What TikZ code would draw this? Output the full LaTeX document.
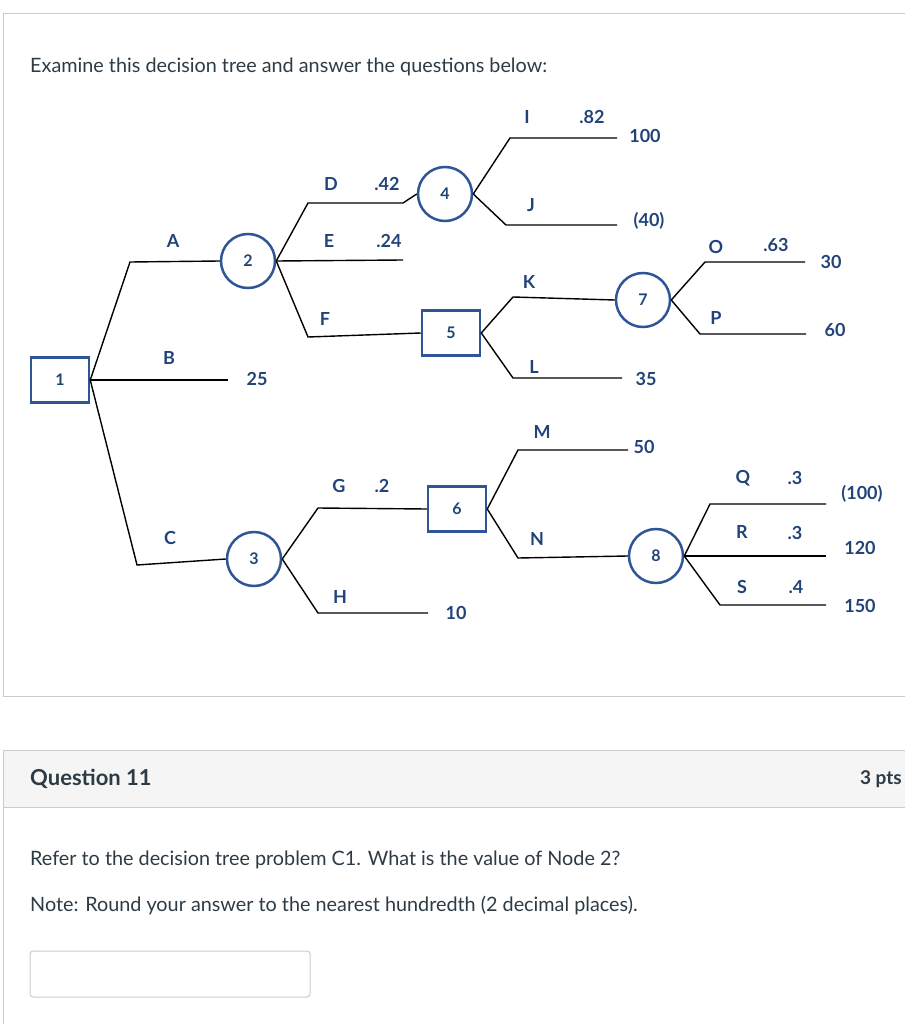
\documentclass[tikz,border=0pt]{standalone}
\usepackage{fontspec}
\setmainfont{Lato}
\definecolor{nodeblue}{HTML}{2F5597}
\definecolor{lab}{HTML}{22437A}
\definecolor{txt}{HTML}{2D3B45}
\definecolor{panel}{HTML}{C7CDD1}
\definecolor{head}{HTML}{F5F5F5}
\begin{document}
\begin{tikzpicture}[x=1pt,y=-1pt,
 sq/.style={draw=nodeblue,line width=2.5pt,minimum width=58pt,minimum height=45pt,inner sep=0pt,text=lab,font=\fontsize{16}{18}\selectfont\bfseries},
 ci/.style={circle,draw=nodeblue,line width=2.5pt,minimum size=54pt,inner sep=0pt,text=lab,font=\fontsize{16}{18}\selectfont\bfseries},
 lb/.style={text=lab,font=\fontsize{18}{21}\selectfont\bfseries,inner sep=0pt},
 br/.style={line width=1.4pt,black},
 body/.style={text=txt,font=\fontsize{19.8}{24}\selectfont,anchor=west,inner sep=0pt}]
\useasboundingbox (0,0) rectangle (904,1024);
\draw[panel,line width=1pt] (915,14) -- (3,14) -- (3,696) -- (915,696);
\node[body] (title) at (30,67) {Examine this decision tree and answer the questions below:};
% nodes
\node[sq] (n1) at (60,380) {1};
\node[ci] (n2) at (248,261) {2};
\node[ci] (n3) at (254,559) {3};
\node[ci] (n4) at (445,194) {4};
\node[sq] (n5) at (451,333) {5};
\node[sq] (n6) at (457,509) {6};
\node[ci] (n7) at (643,300) {7};
\node[ci] (n8) at (656,556) {8};
% coordinates
\coordinate (a1) at (130,262); \coordinate (c1) at (137,565); \coordinate (b2) at (228,380);
\coordinate (d1) at (308,203); \coordinate (d2) at (403,203);
\coordinate (e2) at (403,260);
\coordinate (f1) at (308,337);
\coordinate (i1) at (510,138); \coordinate (i2) at (617,138);
\coordinate (j1) at (506,225); \coordinate (j2) at (617,225);
\coordinate (k1) at (513,297);
\coordinate (l1) at (513,378); \coordinate (l2) at (622,378);
\coordinate (o1) at (705,262); \coordinate (o2) at (805,262);
\coordinate (p1) at (700,334); \coordinate (p2) at (806,334);
\coordinate (g1) at (318,508);
\coordinate (h1) at (318,613); \coordinate (h2) at (428,613);
\coordinate (m1) at (518,450); \coordinate (m2) at (628,450);
\coordinate (nn1) at (518,558);
\coordinate (q1) at (710,504); \coordinate (q2) at (826,504);
\coordinate (r2) at (826,556);
\coordinate (s1) at (720,605); \coordinate (s2) at (826,605);
% branches
\draw[br] (n1.east) -- (a1) -- (n2.west);
\draw[br] (n1.east) -- (b2);
\draw[br] (n1.east) -- (c1) -- (n3.west);
\draw[br] (n2.east) -- (d1) -- (d2);
\draw[br] (n2.east) -- (e2);
\draw[br] (n2.east) -- (f1) -- (n5.west);
\draw[br] (n4.east) -- (i1) -- (i2);
\draw[br] (n4.east) -- (j1) -- (j2);
\draw[br] (n5.east) -- (k1) -- (n7.west);
\draw[br] (n5.east) -- (l1) -- (l2);
\draw[br] (n7.east) -- (o1) -- (o2);
\draw[br] (n7.east) -- (p1) -- (p2);
\draw[br] (n3.east) -- (g1) -- (n6.west);
\draw[br] (n3.east) -- (h1) -- (h2);
\draw[br] (n6.east) -- (m1) -- (m2);
\draw[br] (n6.east) -- (nn1) -- (n8.west);
\draw[br] (n8.east) -- (q1) -- (q2);
\draw[br] (n8.east) -- (r2);
\draw[br] (n8.east) -- (s1) -- (s2);
\draw[br] (d2) -- (n4.west);
% labels
\node[lb] (tA) at (173,241) {A};
\node[lb] (tB) at (169,358) {B};
\node[lb] (tC) at (170,538) {C};
\node[lb] (v25) at (257,379) {25};
\node[lb] (tD) at (331,184) {D};
\node[lb] (p42) at (387,184) {.42};
\node[lb] (tE) at (329,241) {E};
\node[lb] (p24) at (389,241) {.24};
\node[lb] (tF) at (325,319) {F};
\node[lb] (tI) at (527,117) {I};
\node[lb] (p82) at (592,117) {.82};
\node[lb] (v100) at (645,136) {100};
\node[lb] (tJ) at (531,205) {J};
\node[lb] (vm40) at (649,221) {(40)};
\node[lb] (tK) at (529,282) {K};
\node[lb] (tL) at (534,367) {L};
\node[lb] (v35) at (646,379) {35};
\node[lb] (tO) at (716,247) {O};
\node[lb] (p63) at (776,245) {.63};
\node[lb] (v30) at (831,262) {30};
\node[lb] (tP) at (716,318) {P};
\node[lb] (v60) at (835,330) {60};
\node[lb] (tG) at (339,486) {G};
\node[lb] (p2) at (382,486) {.2};
\node[lb] (tH) at (340,597) {H};
\node[lb] (v10) at (456,613) {10};
\node[lb] (tM) at (542,432) {M};
\node[lb] (v50) at (644,447) {50};
\node[lb] (tN) at (537,539) {N};
\node[lb] (tQ) at (743,478) {Q};
\node[lb] (pq) at (795,478) {.3};
\node[lb] (vm100) at (862,494) {(100)};
\node[lb] (tR) at (742,532) {R};
\node[lb] (pr) at (795,533) {.3};
\node[lb] (v120) at (860,548) {120};
\node[lb] (tS) at (742,587) {S};
\node[lb] (ps) at (796,587) {.4};
\node[lb] (v150) at (860,606) {150};
% question panel
\fill[head] (3,750) rectangle (915,807);
\draw[panel,line width=1pt] (915,750) -- (3,750) -- (3,1030);
\draw[panel,line width=1pt] (3,807) -- (915,807);
\node[body,font=\fontsize{22}{26}\selectfont\bfseries] (q11) at (30,779) {Question 11};
\node[text=txt,font=\fontsize{19}{23}\selectfont\bfseries,anchor=east,inner sep=0pt] (pts) at (902,779) {3 pts};
\node[body,font=\fontsize{19.8}{24}\selectfont] (refer) at (30,860) {Refer to the decision tree problem C1. What is the value of Node 2?};
\node[body,font=\fontsize{19.8}{24}\selectfont] (note) at (30,906) {Note: Round your answer to the nearest hundredth (2 decimal places).};
\draw[panel,line width=1pt,rounded corners=3pt] (30,951) rectangle (310,997);
\end{tikzpicture}
\end{document}
